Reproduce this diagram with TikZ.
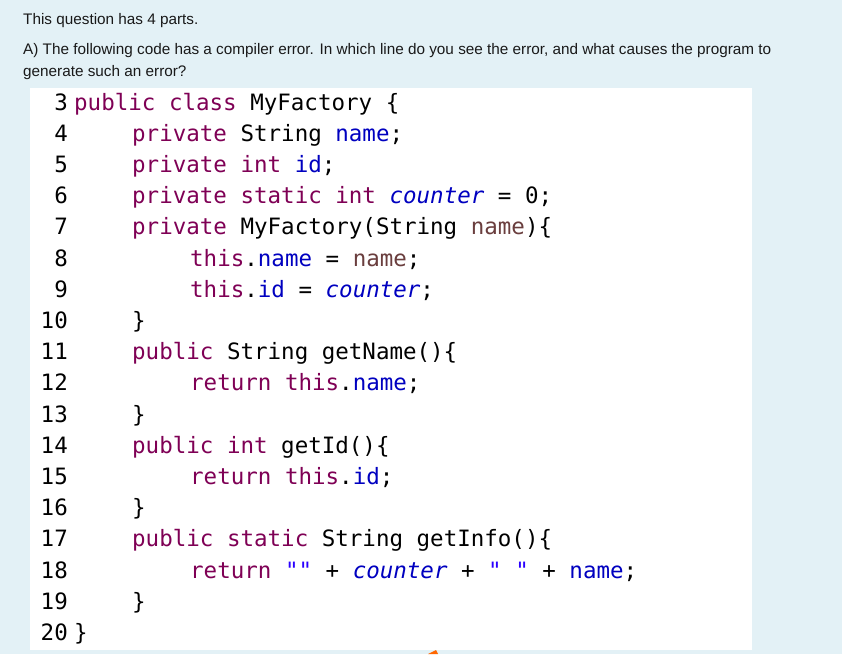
\documentclass[tikz,border=0pt]{standalone}
\usepackage{fontspec}
\setmainfont{Liberation Sans}
\newfontfamily\codefont{DejaVu Sans Mono}[Scale=1]
\definecolor{bgc}{HTML}{E3F1F6}
\definecolor{kw}{HTML}{7F0055}
\definecolor{fld}{HTML}{0000C0}
\definecolor{loc}{HTML}{6A3E3E}
\definecolor{str}{HTML}{2A00FF}
\newcommand{\K}[1]{\textcolor{kw}{#1}}
\newcommand{\F}[1]{\textcolor{fld}{#1}}
\newcommand{\SF}[1]{\textcolor{fld}{\itshape #1}}
\newcommand{\LV}[1]{\textcolor{loc}{#1}}
\newcommand{\ST}[1]{\textcolor{str}{#1}}
\begin{document}
\begin{tikzpicture}[x=1pt,y=-1pt,
  qtext/.style={anchor=base west,inner sep=0pt,font=\fontsize{15.3}{18}\selectfont,text=black!90},
  lnum/.style={anchor=base east,inner sep=0pt,font=\codefont\fontsize{22.5}{26}\selectfont},
  code/.style={anchor=base west,inner sep=0pt,font=\codefont\fontsize{22.5}{26}\selectfont}]
\useasboundingbox (0,0) rectangle (842,654);
\fill[bgc] (0,0) rectangle (842,654);
\fill[white] (30,88) rectangle (752,650);
\fill[orange!80!red] (428,654) -- (436,650) -- (438,654) -- cycle;
\node[qtext] (t1) at (23,24) {This question has 4 parts.};
\node[qtext] (t2) at (23,54) {A) The following code has a compiler error. In which line do you see the error, and what causes the program to};
\node[qtext] (t3) at (23,76) {generate such an error?};
\foreach \n [count=\i from 0] in {3,...,20}{
  \node[lnum] (n\n) at (68,{110+31.2*\i}) {\n};
}
\node[code] (c3) at (74,110) {\K{public} \K{class} MyFactory \{};
\node[code] (c4) at (132,{110+31.2*1}) {\K{private} String \F{name};};
\node[code] (c5) at (132,{110+31.2*2}) {\K{private} \K{int} \F{id};};
\node[code] (c6) at (132,{110+31.2*3}) {\K{private} \K{static} \K{int} \SF{counter} = 0;};
\node[code] (c7) at (132,{110+31.2*4}) {\K{private} MyFactory(String \LV{name})\{};
\node[code] (c8) at (190,{110+31.2*5}) {\K{this}.\F{name} = \LV{name};};
\node[code] (c9) at (190,{110+31.2*6}) {\K{this}.\F{id} = \SF{counter};};
\node[code] (c10) at (132,{110+31.2*7}) {\}};
\node[code] (c11) at (132,{110+31.2*8}) {\K{public} String getName()\{};
\node[code] (c12) at (190,{110+31.2*9}) {\K{return} \K{this}.\F{name};};
\node[code] (c13) at (132,{110+31.2*10}) {\}};
\node[code] (c14) at (132,{110+31.2*11}) {\K{public} \K{int} getId()\{};
\node[code] (c15) at (190,{110+31.2*12}) {\K{return} \K{this}.\F{id};};
\node[code] (c16) at (132,{110+31.2*13}) {\}};
\node[code] (c17) at (132,{110+31.2*14}) {\K{public} \K{static} String getInfo()\{};
\node[code] (c18) at (190,{110+31.2*15}) {\K{return} \ST{""} + \SF{counter} + \ST{" "} + \F{name};};
\node[code] (c19) at (132,{110+31.2*16}) {\}};
\node[code] (c20) at (74,{110+31.2*17}) {\}};
\end{tikzpicture}
\end{document}
